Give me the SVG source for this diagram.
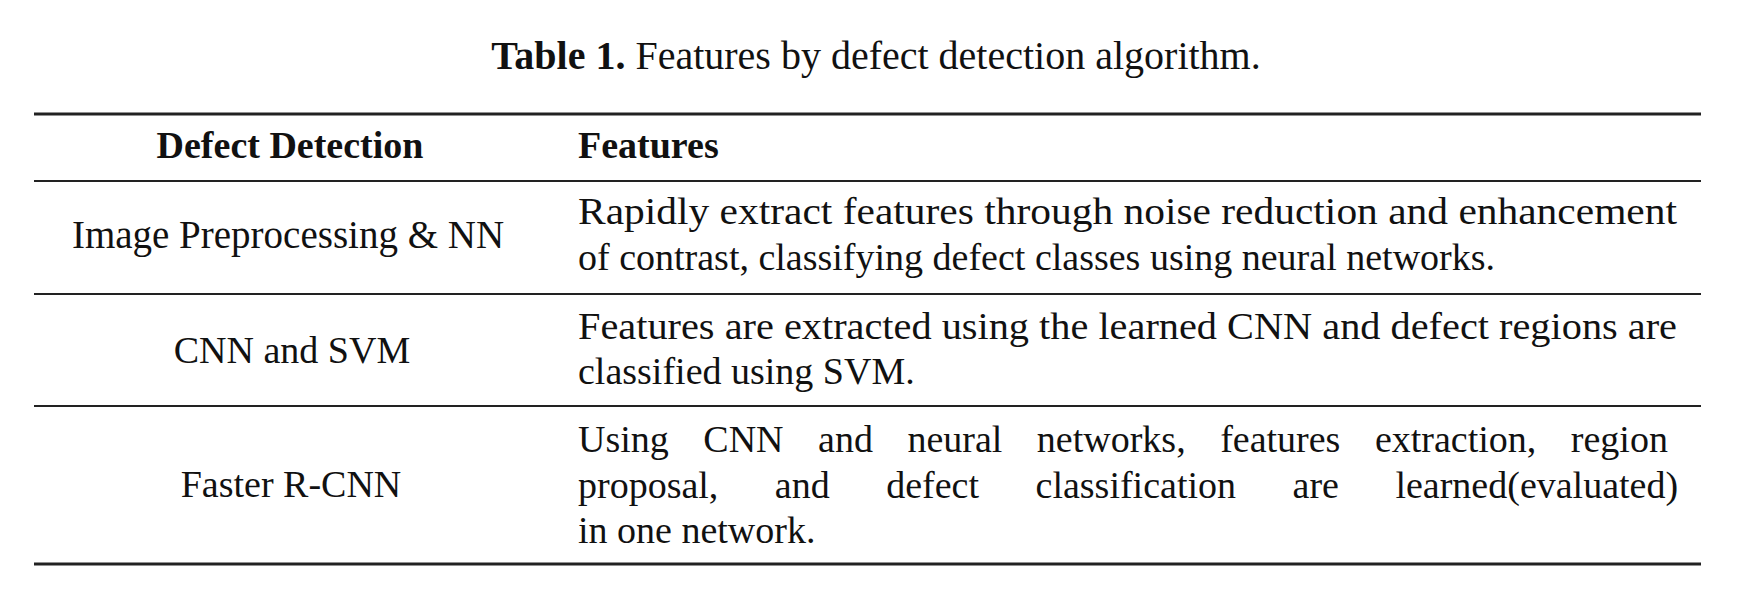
<svg xmlns="http://www.w3.org/2000/svg" width="1752" height="595" viewBox="0 0 1752 595">
<style>
text{font-family:"Liberation Serif","DejaVu Serif",serif;font-size:38px;fill:#111}
.b{font-weight:bold}
.c{text-anchor:middle}
.thick{stroke:#222;stroke-width:3}
.thin{stroke:#222;stroke-width:2}
</style>
<rect width="1752" height="595" fill="#fff"/>
<text x="876" y="69" class="c" style="font-size:40px"><tspan class="b">Table 1.</tspan> Features by defect detection algorithm.</text>
<g id="rules">
<line x1="34" y1="114" x2="1701" y2="114" class="thick"/>
<line x1="34" y1="181" x2="1701" y2="181" class="thin"/>
<line x1="34" y1="294" x2="1701" y2="294" class="thin"/>
<line x1="34" y1="406" x2="1701" y2="406" class="thin"/>
<line x1="34" y1="564" x2="1701" y2="564" class="thick"/>
</g>
<g id="header">
<text x="290" y="158" class="b c">Defect Detection</text>
<text x="578" y="158" class="b">Features</text>
</g>
<g id="row1">
<text x="288" y="248" class="c" style="font-size:39px">Image Preprocessing &amp; NN</text>
<text x="578" y="224" textLength="1099" lengthAdjust="spacingAndGlyphs">Rapidly extract features through noise reduction and enhancement</text>
<text x="578" y="270">of contrast, classifying defect classes using neural networks.</text>
</g>
<g id="row2">
<text x="292" y="363" class="c">CNN and SVM</text>
<text x="578" y="339" textLength="1099" lengthAdjust="spacingAndGlyphs">Features are extracted using the learned CNN and defect regions are</text>
<text x="578" y="384">classified using SVM.</text>
</g>
<g id="row3">
<text x="291" y="497" class="c">Faster R-CNN</text>
<text x="578" y="452" word-spacing="25">Using CNN and neural networks, features extraction, region</text>
<text x="578" y="498" word-spacing="47">proposal, and defect classification are learned(evaluated)</text>
<text x="578" y="543">in one network.</text>
</g>
</svg>
